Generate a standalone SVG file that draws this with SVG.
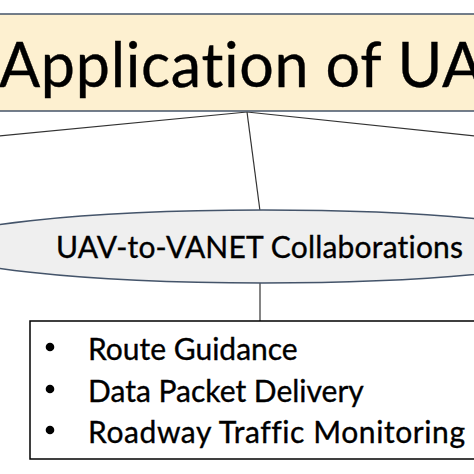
<svg xmlns="http://www.w3.org/2000/svg" width="474" height="474" viewBox="0 0 474 474">
<style>
.t{font-family:Lato,"Open Sans","Noto Sans",sans-serif;fill:#000;stroke:#000;stroke-width:0.35;font-variant-ligatures:none}
.con{stroke:#333;stroke-width:1.2;fill:none}
</style>
<rect width="474" height="474" fill="#fff"/>
<g id="connectors">
<line class="con" x1="247" y1="112" x2="-2" y2="136"/>
<line class="con" x1="247" y1="112" x2="476" y2="136"/>
<line class="con" x1="247" y1="112" x2="260" y2="211"/>
<line class="con" x1="260" y1="283" x2="260" y2="321"/>
</g>
<g id="title">
<rect x="-5" y="14" width="484" height="97" fill="#fdf0d0" stroke="#44546a" stroke-width="1.5"/>
<text class="t" x="-1" y="87" font-size="61" stroke-width="0.6" textLength="523">Application of UAV</text>
</g>
<g id="collab">
<ellipse cx="263" cy="246.5" rx="329" ry="36.5" fill="#efefef" stroke="#44546a" stroke-width="1.6"/>
<text class="t" x="56" y="258" font-size="30" textLength="407">UAV-to-VANET Collaborations</text>
</g>
<g id="list">
<rect x="30" y="321" width="460" height="138" fill="#fff" stroke="#000" stroke-width="1.5"/>
<circle cx="50" cy="347" r="4.3"/>
<circle cx="50" cy="389" r="4.3"/>
<circle cx="50" cy="430" r="4.3"/>
<text class="t" x="88" y="360" font-size="30">Route Guidance</text>
<text class="t" x="88" y="402" font-size="30">Data Packet Delivery</text>
<text class="t" x="88" y="443" font-size="30" textLength="377">Roadway Traffic Monitoring</text>
</g>
</svg>
